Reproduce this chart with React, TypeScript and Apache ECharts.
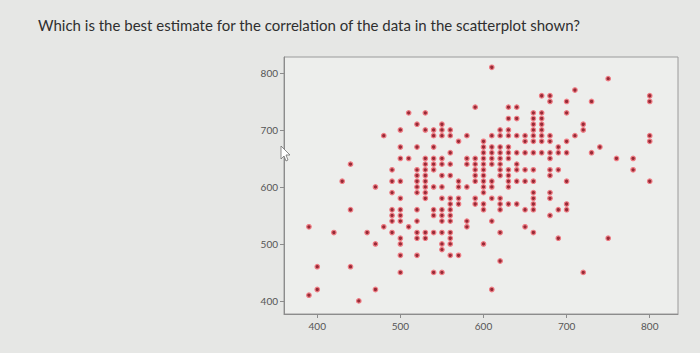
import React, { useEffect, useRef } from "react";
import * as echarts from "echarts";

const questionText = "Which is the best estimate for the correlation of the data in the scatterplot shown?";

const xTickValues = [400, 500, 600, 700, 800];
const yTickValues = [400, 500, 600, 700, 800];

// Each row: [y value, x values of the dots on that row]
const pointRows: [number, number[]][] = [
  [810, [610]],
  [790, [750]],
  [770, [710]],
  [760, [670, 680, 800]],
  [750, [680, 700, 730, 800]],
  [740, [590, 630, 640]],
  [730, [510, 530, 660, 670, 700]],
  [720, [630, 640, 660, 670]],
  [710, [520, 550, 660, 670, 720]],
  [700, [500, 530, 540, 550, 560, 620, 630, 660, 670, 720]],
  [690, [480, 540, 550, 560, 580, 610, 620, 630, 640, 650, 660, 670, 680, 710, 800]],
  [680, [570, 600, 650, 660, 670, 680, 700, 800]],
  [670, [500, 520, 540, 600, 610, 620, 630, 690, 740]],
  [660, [560, 600, 610, 620, 630, 640, 650, 660, 670, 680, 690, 700, 730]],
  [650, [500, 510, 530, 540, 550, 580, 590, 600, 610, 620, 630, 680, 760, 780]],
  [640, [440, 530, 540, 550, 560, 580, 590, 600, 610, 620, 640]],
  [630, [490, 520, 530, 540, 590, 600, 620, 630, 640, 650, 660, 680, 690, 780]],
  [620, [520, 530, 550, 560, 590, 600, 620, 630, 680]],
  [610, [430, 490, 500, 520, 530, 570, 590, 600, 610, 630, 640, 650, 660, 700, 800]],
  [600, [470, 520, 530, 540, 550, 570, 580, 600, 610, 630]],
  [590, [490, 520, 530, 600, 660, 680]],
  [580, [500, 530, 550, 560, 570, 590, 610, 620, 660, 680]],
  [570, [560, 570, 590, 600, 620, 630, 640, 660, 700]],
  [560, [440, 490, 500, 520, 540, 550, 560, 600, 620, 650, 660, 690, 700]],
  [550, [490, 500, 540, 550, 560, 680]],
  [540, [490, 500, 520, 550, 560, 580, 610]],
  [530, [390, 480, 510, 580, 650]],
  [520, [420, 460, 490, 520, 530, 540, 550, 560, 620, 660]],
  [510, [500, 520, 530, 560, 690, 750]],
  [500, [470, 500, 550, 560, 600]],
  [490, [550]],
  [480, [500, 520, 560, 570]],
  [470, [620]],
  [460, [400, 440]],
  [450, [500, 540, 550, 720]],
  [420, [400, 470, 610]],
  [410, [390]],
  [400, [450]],
];

export default function App() {
  const ref = useRef<HTMLDivElement>(null);

  useEffect(() => {
    document.body.style.margin = "0";
    if (!ref.current) return;
    const chart = echarts.init(ref.current, null, { renderer: "svg" });
    const data: [number, number][] = [];
    pointRows.forEach(([y, xs]) => xs.forEach((x) => data.push([x, y])));

    chart.setOption({
      animation: false,
      backgroundColor: "#e6e7e5",
      title: {
        text: questionText,
        left: 33,
        top: 12,
        textStyle: {
          fontFamily: "Lato",
          fontSize: 15,
          fontWeight: "normal",
          color: "#2f2f2f",
        },
      },
      grid: {
        left: 284,
        top: 57,
        width: 394,
        height: 257,
        show: true,
        borderColor: "#9a9a9a",
        borderWidth: 1,
        backgroundColor: "#edeeec",
      },
      xAxis: {
        type: "value",
        min: 360,
        max: 834,
        splitLine: { show: false },
        axisLine: { show: true, lineStyle: { color: "#8c8c8c" } },
        axisTick: { show: true, length: 4, customValues: xTickValues, lineStyle: { color: "#8c8c8c" } },
        axisLabel: {
          customValues: xTickValues,
          color: "#555",
          fontFamily: "Lato",
          fontSize: 10,
          margin: 7,
        },
      },
      yAxis: {
        type: "value",
        min: 377,
        max: 828,
        splitLine: { show: false },
        axisLine: { show: true, lineStyle: { color: "#8c8c8c" } },
        axisTick: { show: true, length: 4, customValues: yTickValues, lineStyle: { color: "#8c8c8c" } },
        axisLabel: {
          customValues: yTickValues,
          color: "#555",
          fontFamily: "Lato",
          fontSize: 10,
          margin: 6,
        },
      },
      series: [
        {
          type: "scatter",
          data,
          symbolSize: 4.5,
          itemStyle: {
            color: "#962a36",
            borderColor: "#ef7c84",
            borderWidth: 1.2,
            opacity: 1,
          },
        },
      ],
      graphic: [
        {
          type: "polygon",
          z: 100,
          shape: {
            points: [
              [281, 146],
              [281, 159],
              [284, 156],
              [286, 161],
              [288, 160],
              [286, 155],
              [290, 155],
            ],
          },
          style: { fill: "#ffffff", stroke: "#6f6f6f", lineWidth: 0.8 },
        },
      ],
    });
    return () => chart.dispose();
  }, []);

  return (
    <div
      ref={ref}
      style={{ position: "fixed", left: 0, top: 0, width: 700, height: 353 }}
    />
  );
}
